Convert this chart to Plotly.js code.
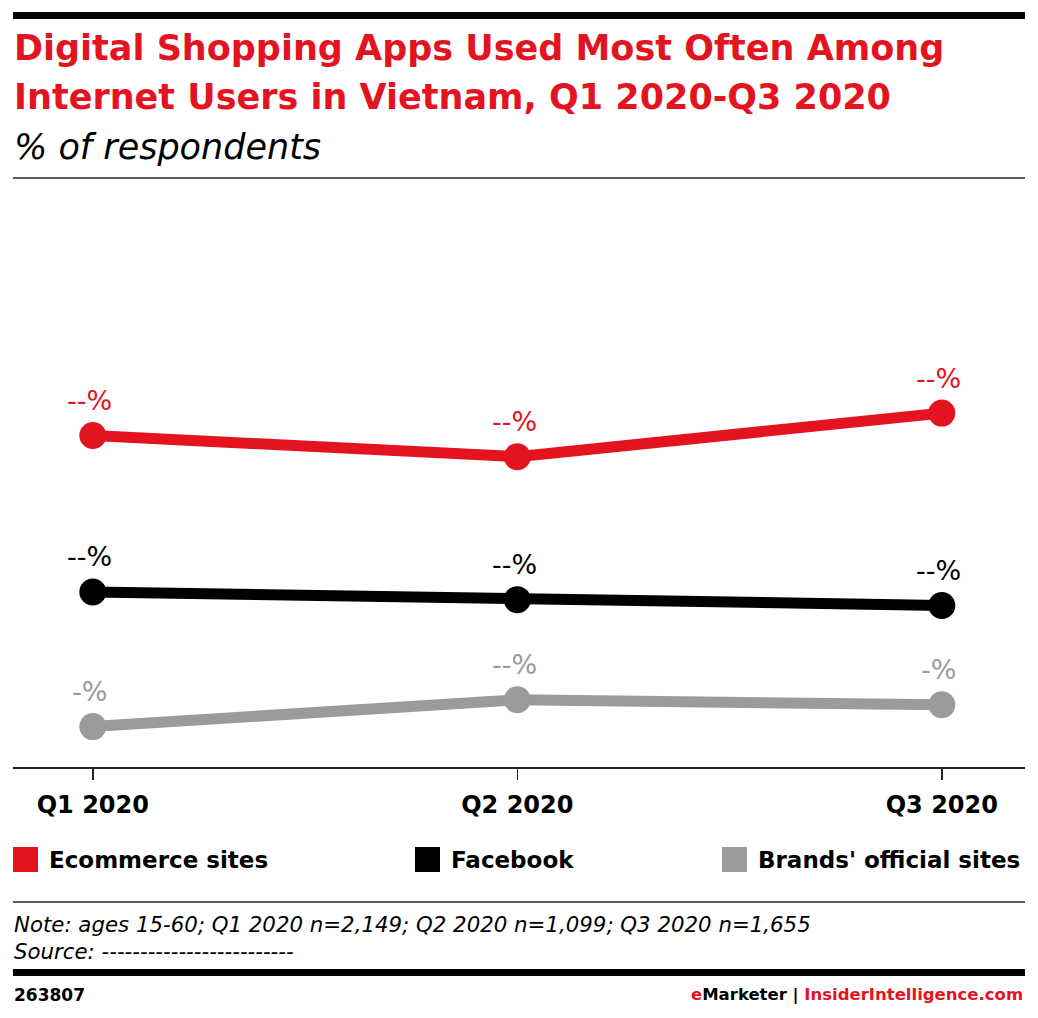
<!DOCTYPE html>
<html>
<head>
<meta charset="utf-8">
<script src="https://cdn.plot.ly/plotly-3.0.1.min.js"></script>
<style>html,body{margin:0;padding:0;background:#fff;}#chart{width:1038px;height:1018px;}</style>
</head>
<body>
<div id="chart"></div>
<script>
// ---- data ----
const quarters = ["Q1 2020", "Q2 2020", "Q3 2020"];
const seriesNames = ["Ecommerce sites", "Facebook", "Brands' official sites"];
const ecommerce = [51.7, 48.4, 55.2];
const facebook = [27.3, 26.1, 25.2];
const brands = [6.3, 10.5, 9.7];
const ecommerceLabels = ["--%", "--%", "--%"];
const facebookLabels = ["--%", "--%", "--%"];
const brandsLabels = ["-%", "--%", "-%"];
const colors = ["#e3141f", "#000000", "#9b9b9b"];

const titleLines = ["Digital Shopping Apps Used Most Often Among", "Internet Users in Vietnam, Q1 2020-Q3 2020"];
const subtitle = "% of respondents";
const note = "Note: ages 15-60; Q1 2020 n=2,149; Q2 2020 n=1,099; Q3 2020 n=1,655";
const source = "Source: -------------------------";
const chartId = "263807";

// ---- layout helpers (pixel -> paper) ----
const L = 13, R = 1025, TOP = 190, BOT = 767;
const px = X => (X - L) / (R - L);
const py = Y => (BOT - Y) / (BOT - TOP);

const FONT = "'DejaVu Sans', Arial, sans-serif";
const seriesVals = [ecommerce, facebook, brands];
const seriesLabels = [ecommerceLabels, facebookLabels, brandsLabels];

const traces = seriesVals.map((vals, i) => ({
  type: "scatter",
  mode: "lines+markers",
  x: quarters,
  y: vals,
  name: seriesNames[i],
  line: {color: colors[i], width: 11},
  marker: {color: colors[i], size: 27},
  showlegend: false,
  hoverinfo: "skip"
}));

const annotations = [];
// data labels
seriesVals.forEach((vals, i) => {
  vals.forEach((v, j) => {
    annotations.push({
      x: quarters[j], y: v, xref: "x", yref: "y",
      text: seriesLabels[i][j], showarrow: false,
      yshift: 35, xshift: -3, yanchor: "middle",
      font: {family: FONT, size: 27, color: colors[i]}
    });
  });
});
// title
titleLines.forEach((t, k) => {
  annotations.push({
    xref: "paper", yref: "paper", x: px(12), y: py(48 + k * 49),
    xanchor: "left", yanchor: "middle", showarrow: false,
    text: "<b>" + t + "</b>",
    font: {family: FONT, size: 35, color: colors[0]}
  });
});
annotations.push({
  xref: "paper", yref: "paper", x: px(12), y: py(147),
  xanchor: "left", yanchor: "middle", showarrow: false,
  text: "<i>" + subtitle + "</i>",
  font: {family: FONT, size: 35, color: "#000"}
});
// legend
const legX = [13, 415, 722];
seriesNames.forEach((n, i) => {
  annotations.push({
    xref: "paper", yref: "paper", x: px(legX[i] + 34), y: py(860),
    xanchor: "left", yanchor: "middle", showarrow: false,
    text: "<b>" + n + "</b>",
    font: {family: FONT, size: 23, color: "#000"}
  });
});
// note / source
annotations.push({
  xref: "paper", yref: "paper", x: px(12), y: py(924),
  xanchor: "left", yanchor: "middle", showarrow: false,
  text: "<i>" + note + "</i>",
  font: {family: FONT, size: 21.3, color: "#000"}
});
annotations.push({
  xref: "paper", yref: "paper", x: px(12), y: py(951),
  xanchor: "left", yanchor: "middle", showarrow: false,
  text: "<i>" + source + "</i>",
  font: {family: FONT, size: 21.3, color: "#000"}
});
// footer
annotations.push({
  xref: "paper", yref: "paper", x: px(12), y: py(995),
  xanchor: "left", yanchor: "middle", showarrow: false,
  text: "<b>" + chartId + "</b>",
  font: {family: FONT, size: 17, color: "#000"}
});
annotations.push({
  xref: "paper", yref: "paper", x: px(1025), y: py(995),
  xanchor: "right", yanchor: "middle", showarrow: false,
  text: "<b><span style='color:#e3141f'>e</span>Marketer | <span style='color:#e3141f'>InsiderIntelligence.com</span></b>",
  font: {family: FONT, size: 16.5, color: "#000"}
});

const shapes = [
  {type: "rect", xref: "paper", yref: "paper", x0: px(13), x1: px(1025), y0: py(19), y1: py(12), fillcolor: "#000", line: {width: 0}},
  {type: "line", xref: "paper", yref: "paper", x0: px(13), x1: px(1025), y0: py(178), y1: py(178), line: {color: "#222", width: 1.5}},
  {type: "line", xref: "paper", yref: "paper", x0: px(13), x1: px(1025), y0: py(902), y1: py(902), line: {color: "#222", width: 1.5}},
  {type: "rect", xref: "paper", yref: "paper", x0: px(13), x1: px(1025), y0: py(976), y1: py(969), fillcolor: "#000", line: {width: 0}}
];
legX.forEach((x, i) => {
  shapes.push({type: "rect", xref: "paper", yref: "paper", x0: px(x), x1: px(x + 25), y0: py(872), y1: py(847), fillcolor: colors[i], line: {width: 0}});
});

const layout = {
  width: 1038, height: 1018,
  margin: {l: L, r: 1038 - R, t: TOP, b: 1018 - BOT},
  paper_bgcolor: "#fff", plot_bgcolor: "#fff",
  showlegend: false,
  font: {family: FONT},
  xaxis: {
    type: "category", range: [-0.188, 2.196],
    showgrid: false, zeroline: false,
    showline: true, linecolor: "#222", linewidth: 2,
    ticks: "outside", ticklen: 11, tickcolor: "#222", tickwidth: 1.5,
    tickfont: {family: FONT, size: 24, color: "#000", weight: "bold"},
    ticklabelstandoff: 4,
    fixedrange: true
  },
  yaxis: {
    range: [0, 90], visible: false, showgrid: false, zeroline: false, fixedrange: true
  },
  annotations: annotations,
  shapes: shapes
};

Plotly.newPlot("chart", traces, layout, {displayModeBar: false, staticPlot: true});
</script>
</body>
</html>
